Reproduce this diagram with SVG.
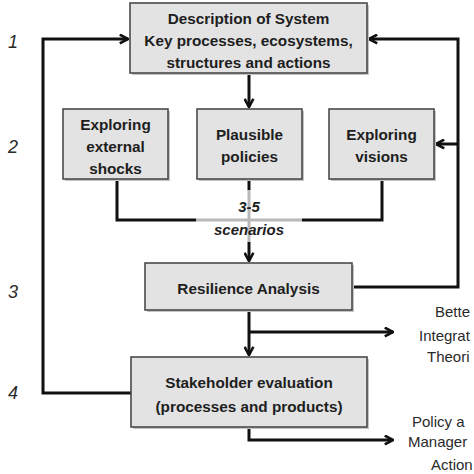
<svg xmlns="http://www.w3.org/2000/svg" width="474" height="474" viewBox="0 0 474 474">
<style>
.box{fill:#e3e3e3;stroke:#4a4a4a;stroke-width:1.6}
.shadow{fill:#c4c4c4}
.t{font-family:"Liberation Sans",Arial,sans-serif;font-weight:bold;font-size:15.3px;fill:#1e1e1e;text-anchor:middle}
.ti{font-family:"Liberation Sans",Arial,sans-serif;font-weight:bold;font-style:italic;font-size:15px;fill:#1e1e1e;text-anchor:middle}
.r{font-family:"Liberation Sans",Arial,sans-serif;font-size:15px;fill:#2a2a2a}
.s{font-family:"Liberation Sans",Arial,sans-serif;font-style:italic;font-size:18px;fill:#2a2a2a}
.ln{fill:none;stroke:#111;stroke-width:3}
</style>
<defs>
<marker id="ah" viewBox="0 0 10 10" refX="9" refY="5" markerWidth="11" markerHeight="11" markerUnits="userSpaceOnUse" orient="auto">
<path d="M1.5,1 L9,5 L1.5,9" fill="none" stroke="#111" stroke-width="2.4"/>
</marker>
</defs>
<rect width="474" height="474" fill="#fff"/>
<g id="connectors">
<path class="ln" d="M131,393 H43 V39 H128" marker-end="url(#ah)"/>
<path class="ln" d="M352,287 H458 V39 H369" marker-end="url(#ah)"/>
<path class="ln" d="M458,144 H436" marker-end="url(#ah)"/>
<path class="ln" d="M249,73 V107" marker-end="url(#ah)"/>
<path class="ln" d="M117,179 V220 H382 V179"/>
<path class="ln" d="M249,179 V261" marker-end="url(#ah)"/>
<path class="ln" d="M249,310 V355" marker-end="url(#ah)"/>
<path class="ln" d="M249,332 H393" marker-end="url(#ah)"/>
<path class="ln" d="M249,427 V440 H393" marker-end="url(#ah)"/>
<rect x="196" y="190" width="106" height="52" fill="#fff" opacity="0.7"/>
<text class="ti" x="249" y="212">3-5</text>
<text class="ti" x="249" y="235">scenarios</text>
</g>
<g id="n-system">
<rect class="shadow" x="132" y="5" width="237" height="70"/>
<rect class="box" x="130" y="3" width="237" height="70"/>
<text class="t" x="248.5" y="24">Description of System</text>
<text class="t" x="248.5" y="46">Key processes, ecosystems,</text>
<text class="t" x="248.5" y="68">structures and actions</text>
</g>
<g id="n-shocks">
<rect class="shadow" x="65" y="111" width="105" height="70"/>
<rect class="box" x="63" y="109" width="105" height="70"/>
<text class="t" x="115.5" y="130">Exploring</text>
<text class="t" x="115.5" y="152">external</text>
<text class="t" x="115.5" y="174">shocks</text>
</g>
<g id="n-policies">
<rect class="shadow" x="199" y="111" width="105" height="70"/>
<rect class="box" x="197" y="109" width="105" height="70"/>
<text class="t" x="249.5" y="140">Plausible</text>
<text class="t" x="249.5" y="162">policies</text>
</g>
<g id="n-visions">
<rect class="shadow" x="331" y="111" width="105" height="70"/>
<rect class="box" x="329" y="109" width="105" height="70"/>
<text class="t" x="381.5" y="140">Exploring</text>
<text class="t" x="381.5" y="162">visions</text>
</g>
<g id="n-resilience">
<rect class="shadow" x="147" y="265" width="207" height="47"/>
<rect class="box" x="145" y="263" width="207" height="47"/>
<text class="t" x="248.5" y="294">Resilience Analysis</text>
</g>
<g id="n-stakeholder">
<rect class="shadow" x="133" y="359" width="236" height="70"/>
<rect class="box" x="131" y="357" width="236" height="70"/>
<text class="t" x="249" y="388">Stakeholder evaluation</text>
<text class="t" x="249" y="412">(processes and products)</text>
</g>
<g id="n-theories">
<text class="r" x="435" y="317">Bette</text>
<text class="r" x="419" y="341">Integrat</text>
<text class="r" x="427" y="362">Theori</text>
</g>
<g id="n-actions">
<text class="r" x="412" y="427">Policy a</text>
<text class="r" x="408" y="447">Manager</text>
<text class="r" x="431" y="470">Action</text>
</g>
<g id="steps">
<text class="s" x="8" y="48">1</text>
<text class="s" x="8" y="153">2</text>
<text class="s" x="8" y="298">3</text>
<text class="s" x="8" y="399">4</text>
</g>
</svg>
